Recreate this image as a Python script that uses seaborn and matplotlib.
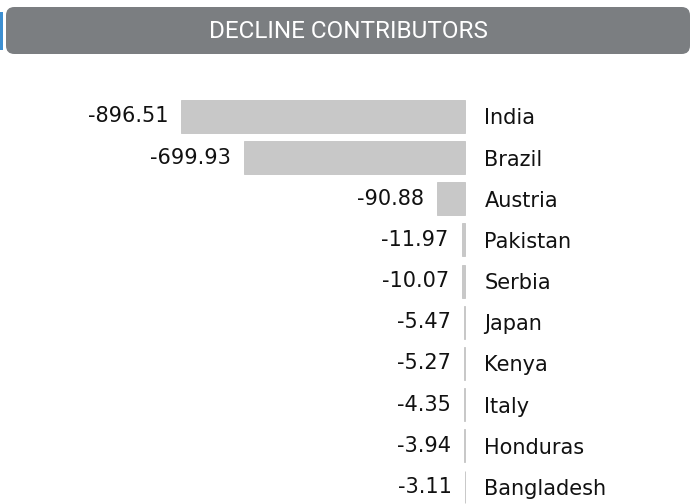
import matplotlib
matplotlib.use("Agg")
import matplotlib.pyplot as plt
from matplotlib.patches import FancyBboxPatch, Rectangle
from matplotlib.transforms import offset_copy
import seaborn as sns
import pandas as pd

countries = ["India", "Brazil", "Austria", "Pakistan", "Serbia",
             "Japan", "Kenya", "Italy", "Honduras", "Bangladesh"]
changes = [-896.51, -699.93, -90.88, -11.97, -10.07,
           -5.47, -5.27, -4.35, -3.94, -3.11]
title = "DECLINE CONTRIBUTORS"

df = pd.DataFrame({"country": countries, "change": changes})

sns.set_theme(style="white")
plt.rcParams["font.family"] = ["DejaVu Sans"]

W, H = 696, 504
fig = plt.figure(figsize=(W / 100, H / 100), dpi=100)
ax = fig.add_axes([0, 0, 1, 1])

bar_color = "#c8c8c8"
sns.barplot(data=df, x="change", y="country", orient="h", color=bar_color,
            saturation=1, width=0.8, ax=ax,
            edgecolor=bar_color, linewidth=0.7)

# zero line sits at x=465.5 px, 0.3168 px per unit
px_per_unit = 0.3168
x0 = 465.5
ax.set_xlim(-x0 / px_per_unit, (W - x0) / px_per_unit)
row = 41.18
y0 = 116.4
ax.set_ylim((H - y0) / row, -y0 / row)
ax.axis("off")

for i, (c, v) in enumerate(zip(countries, changes)):
    t_val = offset_copy(ax.transData, fig=fig, x=-13, y=0, units="dots")
    ax.text(v, i, f"{v:.2f}", transform=t_val, ha="right", va="center",
            fontsize=15, color="#111111")
    t_lab = offset_copy(ax.transData, fig=fig, x=19, y=-2, units="dots")
    ax.text(0, i, c, transform=t_lab, ha="left", va="center",
            fontsize=15, color="#111111")

# header banner
fig.patches.append(Rectangle((0, (H - 50) / H), 3 / W, 38 / H,
                             transform=fig.transFigure,
                             facecolor="#3d8fd1", edgecolor="none"))
fig.patches.append(FancyBboxPatch((6 / W, (H - 54) / H), 684 / W, 47 / H,
                                  boxstyle="round,pad=0,rounding_size=0.012",
                                  transform=fig.transFigure,
                                  facecolor="#7b7e81", edgecolor="none",
                                  mutation_aspect=W / H))
fig.text(348 / W, (H - 31) / H, title, ha="center", va="center",
         fontsize=17.5, color="white", family=["Roboto", "DejaVu Sans"])

fig.savefig("out.png", dpi=100)
